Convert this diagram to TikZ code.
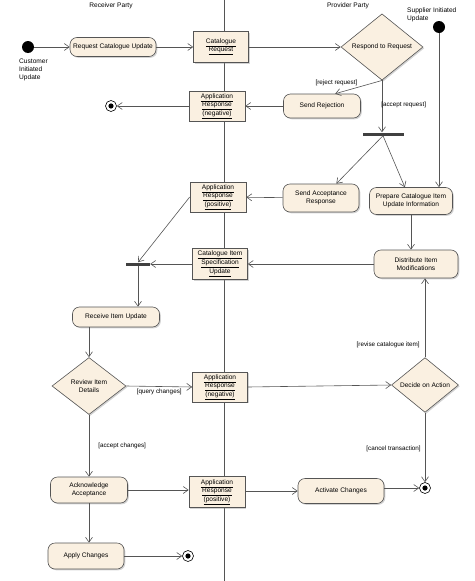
\documentclass[tikz,border=0pt]{standalone}
\usepackage{fontspec}
\setmainfont{Liberation Sans}
\usetikzlibrary{arrows.meta, positioning, shapes, shapes.geometric, shadows, calc}
\definecolor{umlfill}{RGB}{250,240,225}
\definecolor{umlline}{RGB}{85,85,85}
\newcommand{\objline}[1]{\underline{#1}}

\begin{document}
\begin{tikzpicture}[x=1pt, y=-1pt, font=\fontsize{6.6}{8}\selectfont,
  shade box/.style={drop shadow={shadow xshift=1.3pt, shadow yshift=-1.3pt, opacity=0.35}},
  action/.style={draw=umlline, fill=umlfill, line width=0.6pt, rounded corners=7pt, inner sep=0pt, align=center, shade box},
  objnode/.style={draw=umlline, fill=umlfill, line width=0.6pt, inner sep=0pt, align=center, shade box},
  decision/.style={diamond, draw=umlline, fill=umlfill, line width=0.6pt, inner sep=0pt, align=center, shade box},
  initnode/.style={circle, fill=black, minimum size=12pt, inner sep=0pt},
  finalnode/.style={circle, draw=black, fill=white, line width=0.6pt, minimum size=11pt, inner sep=0pt,
    path picture={\fill[black] (path picture bounding box.center) circle (2.6pt);}},
  bar/.style={fill=black!75, inner sep=0pt, minimum height=3pt},
  guard/.style={font=\fontsize{6.3}{7.5}\selectfont, inner sep=1pt},
  flow/.style={draw=umlline, line width=0.6pt, -{Straight Barb[length=5pt, width=7pt]}}]

  \useasboundingbox (0,0) rectangle (474,581);

  % Swimlanes
  \coordinate (laneTop) at (224,0);
  \coordinate (laneBot) at (224,581);
  \draw[umlline, line width=0.6pt] (laneTop) -- (laneBot);
  \node (recvLane) at (111,6) {Receiver Party};
  \node (provLane) at (348,6) {Provider Party};

  % Request and response
  \node[initnode] (start1) at (28,47) {};
  \node[anchor=north west, inner sep=0pt, align=left] (custLbl) at (19,59) {Customer\\Initiated\\Update};
  \node[action, minimum width=86pt, minimum height=19pt] (reqUpd) at (113,47) {Request Catalogue Update};
  \node[objnode, minimum width=55pt, minimum height=31pt] (catReq) at (221,47) {\objline{Catalogue}\\\objline{Request}};
  \node[decision, minimum width=82pt, minimum height=48pt] (respond) at (382,47) {Respond to Request};
  \node[action, minimum width=77pt, minimum height=24pt] (sendRej) at (322,106) {Send Rejection};
  \node[objnode, minimum width=56pt, minimum height=30pt] (appNegA) at (217,106) {\objline{Application}\\\objline{Response}\\\objline{(negative)}};
  \node[finalnode] (finalA) at (111,106) {};
  \node[bar, minimum width=41pt] (forkA) at (383,134) {};

  % Supplier side
  \node[initnode] (supStart) at (439,27) {};
  \node[anchor=north west, inner sep=0pt, align=left] (supLbl) at (407,8) {Supplier Initiated\\Update};
  \node[action, minimum width=76pt, minimum height=28pt] (sendAcc) at (321,198) {Send Acceptance\\Response};
  \node[action, minimum width=83pt, minimum height=27pt] (prepare) at (411,201) {Prepare Catalogue Item\\Update Information};
  \node[objnode, minimum width=56pt, minimum height=30pt] (appPosA) at (218,197) {\objline{Application}\\\objline{Response}\\\objline{(positive)}};
  \node[action, minimum width=84pt, minimum height=28pt] (distrib) at (416,264) {Distribute Item\\Modifications};
  \node[objnode, minimum width=55pt, minimum height=31pt] (catItem) at (220,264) {\objline{Catalogue Item}\\\objline{Specification}\\\objline{Update}};
  \node[bar, minimum width=24pt] (joinA) at (138,264) {};

  % Receiver review
  \node[action, minimum width=87pt, minimum height=20pt] (receive) at (116,317) {Receive Item Update};
  \node[decision, minimum width=74pt, minimum height=57pt] (review) at (89,386) {Review Item\\Details};
  \node[objnode, minimum width=55pt, minimum height=30pt] (appNegB) at (220,387) {\objline{Application}\\\objline{Response}\\\objline{(negative)}};
  \node[decision, minimum width=67pt, minimum height=51pt] (decide) at (425,385) {Decide on Action};
  \node[action, minimum width=77pt, minimum height=26pt] (ackn) at (89,490) {Acknowledge\\Acceptance};
  \node[objnode, minimum width=56pt, minimum height=31pt] (appPosB) at (217,492) {\objline{Application}\\\objline{Response}\\\objline{(positive)}};
  \node[action, minimum width=86pt, minimum height=25pt] (activate) at (341,491) {Activate Changes};
  \node[finalnode] (finalC) at (425,488) {};
  \node[action, minimum width=76pt, minimum height=26pt] (apply) at (86,556) {Apply Changes};
  \node[finalnode] (finalB) at (188,556) {};

  % Flows
  \draw[flow] (start1) -- (reqUpd);
  \draw[flow] (reqUpd) -- (catReq);
  \draw[flow] (catReq) -- (respond);
  \draw[flow] (respond.south) -- (sendRej.43) node[guard, pos=0.5, anchor=south east] {[reject request]};
  \draw[flow] (respond.south) -- (respond.south |- forkA.north) node[guard, pos=0.47, anchor=west, xshift=-2pt] {[accept request]};
  \draw[flow] (sendRej) -- (appNegA);
  \draw[flow] (appNegA) -- (finalA);
  \draw[flow] (forkA.south) -- (sendAcc.43);
  \draw[flow] (forkA.south) -- (prepare.114);
  \draw[flow] (supStart) -- (supStart |- prepare.north);
  \draw[flow] (sendAcc) -- (appPosA);
  \draw[flow] (prepare.south) -- (prepare.south |- distrib.north);
  \draw[flow] (distrib) -- (catItem);
  \draw[flow] (appPosA.west) -- (joinA.north);
  \draw[flow] (catItem) -- (joinA);
  \draw[flow] (joinA.south) -- (joinA.south |- receive.north);
  \draw[flow] (review.north |- receive.south) -- (review.north);
  \draw[flow] (review.east) -- (appNegB.west) node[guard, midway, below=1pt] {[query changes]};
  \draw[flow] (review.south) -- (ackn.north) node[guard, pos=0.5, anchor=west, xshift=8pt] {[accept changes]};
  \draw[flow] (appNegB.east) -- (decide.west);
  \draw[flow] (decide.north) -- (decide.north |- distrib.south) node[guard, pos=0.16, anchor=east, xshift=-4pt] {[revise catalogue item]};
  \draw[flow] (decide.south) -- (finalC.north) node[guard, pos=0.52, anchor=east, xshift=-3pt] {[cancel transaction]};
  \draw[flow] (ackn.east) -- (ackn.east -| appPosB.west);
  \draw[flow] (ackn.south) -- (ackn.south |- apply.north);
  \draw[flow] (apply) -- (finalB);
  \draw[flow] (appPosB.east |- activate.west) -- (activate.west);
  \draw[flow] (activate.east |- finalC) -- (finalC.west);
\end{tikzpicture}
\end{document}
